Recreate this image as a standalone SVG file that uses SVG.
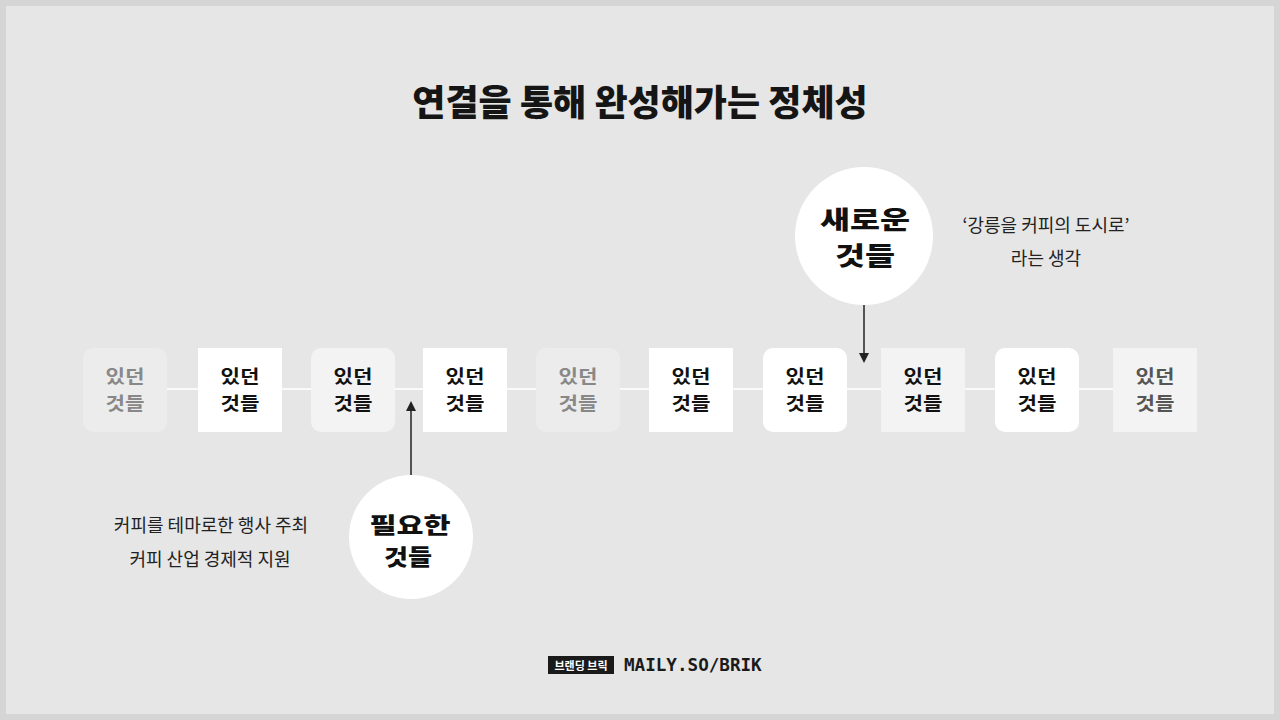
<svg xmlns="http://www.w3.org/2000/svg" width="1280" height="720" viewBox="0 0 1280 720">
<style>
.k{font-family:"Noto Sans CJK KR","Noto Sans",sans-serif;}
.nt{font-family:"Noto Sans CJK KR",sans-serif;font-size:18.5px;font-weight:700;text-anchor:middle;}
.ct{font-family:"Noto Sans CJK KR",sans-serif;font-size:24.5px;font-weight:900;text-anchor:middle;fill:#111;}
.ct2{font-family:"Noto Sans CJK KR",sans-serif;font-size:22px;font-weight:900;text-anchor:middle;fill:#111;}
.st{font-family:"Noto Sans CJK KR",sans-serif;font-size:18px;font-weight:400;text-anchor:middle;fill:#222;}
.conn{stroke:#222;stroke-width:1.5;fill:none;}
</style>
<defs>
<marker id="ah" markerWidth="10" markerHeight="10" refX="5" refY="5" orient="auto" markerUnits="userSpaceOnUse">
<path d="M0,0 L10,5 L0,10 Z" fill="#222"/>
</marker>
</defs>
<rect x="0" y="0" width="1280" height="720" fill="#d5d5d5"/>
<rect x="6" y="6" width="1268" height="708" fill="#e6e6e6"/>
<text x="640" y="116" class="k" font-size="36" font-weight="900" text-anchor="middle" fill="#151515">연결을 통해 완성해가는 정체성</text>

<g id="connectors">
<line x1="90" y1="389" x2="1190" y2="389" stroke="#fafafa" stroke-width="2"/>
<line class="conn" x1="864" y1="285" x2="864" y2="358" marker-end="url(#ah)"/>
<line class="conn" x1="411" y1="495" x2="411" y2="406" marker-end="url(#ah)"/>
</g>

<g id="n1"><rect x="83" y="348" width="84" height="84" rx="10" fill="#ececec"/><text class="nt" fill="#888"><tspan x="125" y="383" textLength="39" lengthAdjust="spacingAndGlyphs">있던</tspan><tspan x="125" dy="27" textLength="39" lengthAdjust="spacingAndGlyphs">것들</tspan></text></g>
<g id="n2"><rect x="198" y="348" width="84" height="84" fill="#fff"/><text class="nt" fill="#111"><tspan x="240" y="383" textLength="39" lengthAdjust="spacingAndGlyphs">있던</tspan><tspan x="240" dy="27" textLength="39" lengthAdjust="spacingAndGlyphs">것들</tspan></text></g>
<g id="n3"><rect x="311" y="348" width="84" height="84" rx="10" fill="#f3f3f3"/><text class="nt" fill="#111"><tspan x="353" y="383" textLength="39" lengthAdjust="spacingAndGlyphs">있던</tspan><tspan x="353" dy="27" textLength="39" lengthAdjust="spacingAndGlyphs">것들</tspan></text></g>
<g id="n4"><rect x="423" y="348" width="84" height="84" fill="#fff"/><text class="nt" fill="#111"><tspan x="465" y="383" textLength="39" lengthAdjust="spacingAndGlyphs">있던</tspan><tspan x="465" dy="27" textLength="39" lengthAdjust="spacingAndGlyphs">것들</tspan></text></g>
<g id="n5"><rect x="536" y="348" width="84" height="84" rx="10" fill="#ececec"/><text class="nt" fill="#888"><tspan x="578" y="383" textLength="39" lengthAdjust="spacingAndGlyphs">있던</tspan><tspan x="578" dy="27" textLength="39" lengthAdjust="spacingAndGlyphs">것들</tspan></text></g>
<g id="n6"><rect x="649" y="348" width="84" height="84" fill="#fff"/><text class="nt" fill="#111"><tspan x="691" y="383" textLength="39" lengthAdjust="spacingAndGlyphs">있던</tspan><tspan x="691" dy="27" textLength="39" lengthAdjust="spacingAndGlyphs">것들</tspan></text></g>
<g id="n7"><rect x="763" y="348" width="84" height="84" rx="10" fill="#fff"/><text class="nt" fill="#111"><tspan x="805" y="383" textLength="39" lengthAdjust="spacingAndGlyphs">있던</tspan><tspan x="805" dy="27" textLength="39" lengthAdjust="spacingAndGlyphs">것들</tspan></text></g>
<g id="n8"><rect x="881" y="348" width="84" height="84" fill="#f3f3f3"/><text class="nt" fill="#111"><tspan x="923" y="383" textLength="39" lengthAdjust="spacingAndGlyphs">있던</tspan><tspan x="923" dy="27" textLength="39" lengthAdjust="spacingAndGlyphs">것들</tspan></text></g>
<g id="n9"><rect x="995" y="348" width="84" height="84" rx="10" fill="#fff"/><text class="nt" fill="#111"><tspan x="1037" y="383" textLength="39" lengthAdjust="spacingAndGlyphs">있던</tspan><tspan x="1037" dy="27" textLength="39" lengthAdjust="spacingAndGlyphs">것들</tspan></text></g>
<g id="n10"><rect x="1113" y="348" width="84" height="84" fill="#f3f3f3"/><text class="nt" fill="#555"><tspan x="1155" y="383" textLength="39" lengthAdjust="spacingAndGlyphs">있던</tspan><tspan x="1155" dy="27" textLength="39" lengthAdjust="spacingAndGlyphs">것들</tspan></text></g>

<g id="new"><circle cx="864" cy="236" r="69" fill="#fff"/><text class="ct"><tspan x="865" y="229" textLength="90" lengthAdjust="spacingAndGlyphs">새로운</tspan><tspan x="865" dy="36" textLength="60" lengthAdjust="spacingAndGlyphs">것들</tspan></text></g>
<g id="need"><circle cx="411" cy="537" r="62" fill="#fff"/><text class="ct2"><tspan x="410" y="533" textLength="81" lengthAdjust="spacingAndGlyphs">필요한</tspan><tspan x="408" dy="32" textLength="48" lengthAdjust="spacingAndGlyphs">것들</tspan></text></g>

<g id="note-right"><text class="st"><tspan x="1046" y="232">‘강릉을 커피의 도시로’</tspan><tspan x="1046" dy="33">라는 생각</tspan></text></g>
<g id="note-left"><text class="st"><tspan x="211" y="532">커피를 테마로한 행사 주최</tspan><tspan x="210" dy="34">커피 산업 경제적 지원</tspan></text></g>

<g id="footer">
<rect x="548" y="656" width="66" height="18" fill="#1a1a1a"/>
<text x="581" y="669.5" class="k" font-size="11" font-weight="700" text-anchor="middle" fill="#fff">브랜딩 브릭</text>
<text x="624" y="671" font-family="DejaVu Sans Mono,Liberation Mono,monospace" font-size="17.6" font-weight="700" fill="#1a1a1a">MAILY.SO/BRIK</text>
</g>
</svg>
